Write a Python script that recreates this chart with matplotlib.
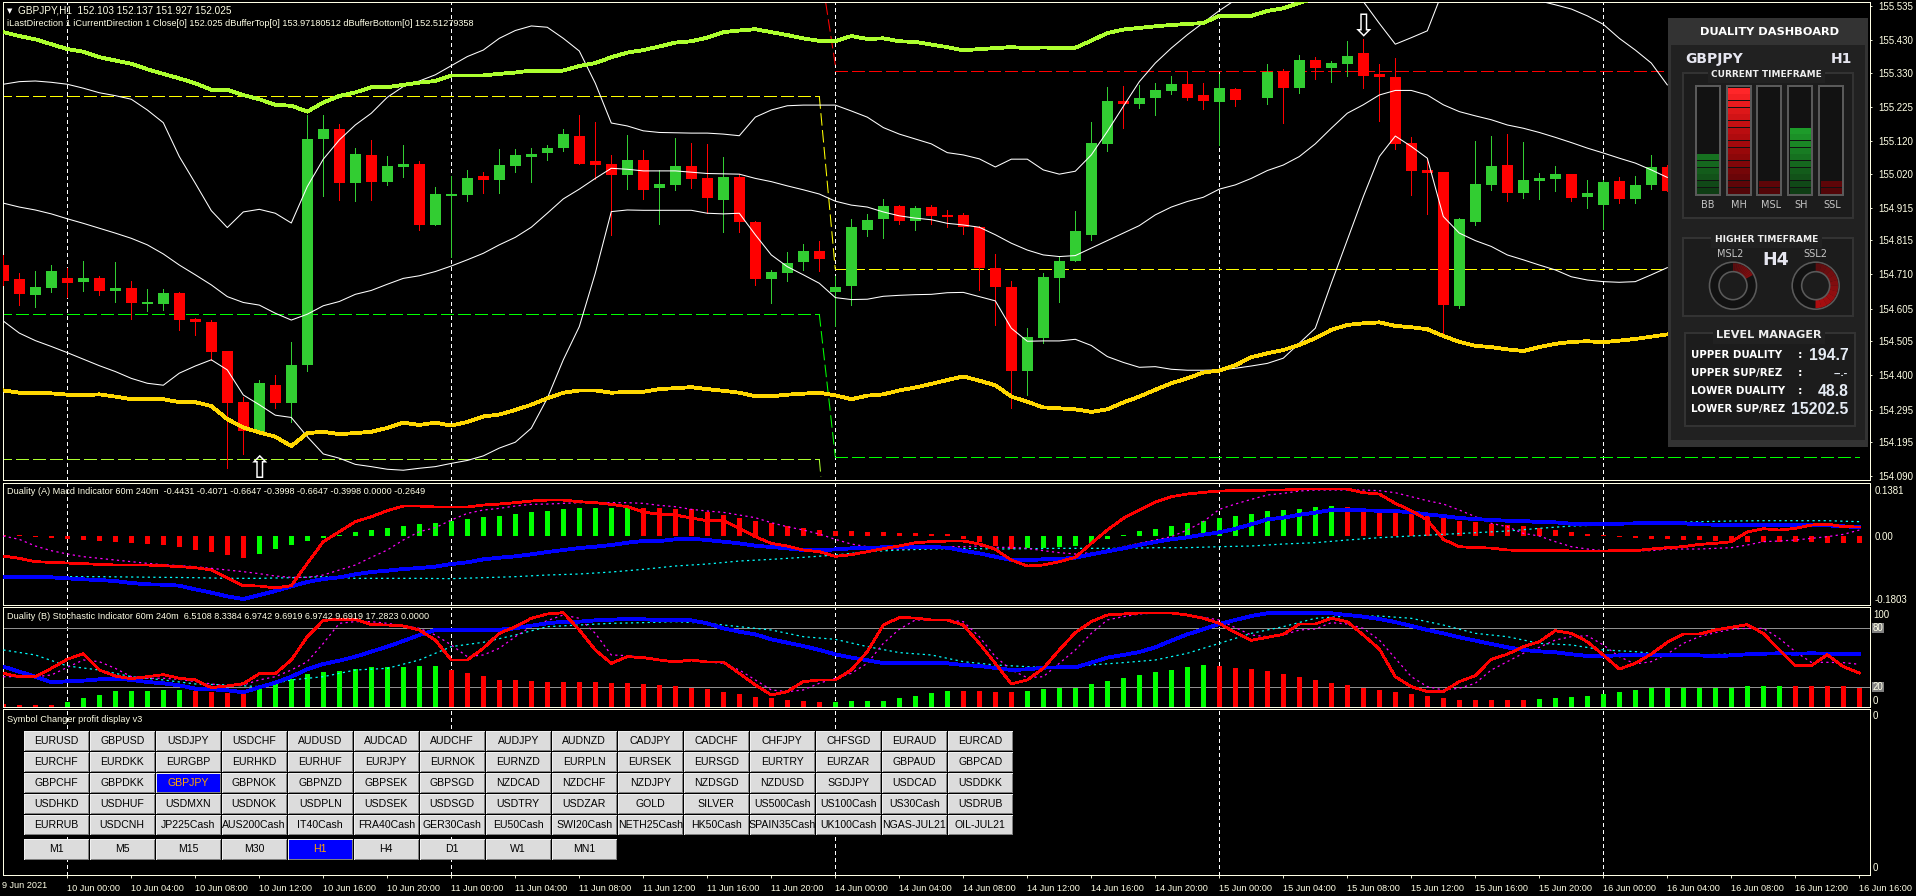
import numpy as np
import matplotlib
matplotlib.use("Agg")
import matplotlib.pyplot as plt
from matplotlib.patches import Rectangle, Wedge, Circle

plt.rcParams['font.family'] = ['Liberation Sans', 'DejaVu Sans']
plt.rcParams['lines.scale_dashes'] = False
plt.rcParams['lines.antialiased'] = False
plt.rcParams['patch.antialiased'] = False

W, H = 1916, 896
PX = 0.72
THIN = 0.9 * PX
FINE = dict(lw=1.05 * PX, antialiased=True)
DOTTED = dict(lw=1.25 * PX, antialiased=True, ls=(0, (1.6, 2.4)))
CREAM = '#FFFFE6'
NA = float('nan')

# ---------------- price candles (bars 0..104 are visible left of the dashboard)
opens = [154.739,154.696,154.647,154.669,154.699,154.687,154.699,154.660,154.669,154.620,154.620,154.653,154.574,154.564,154.475,154.319,154.227,154.371,154.316,154.432,
155.126,155.157,154.991,155.077,154.994,155.040,155.050,154.862,154.951,154.954,155.013,155.000,155.043,155.071,155.083,155.099,155.135,155.059,155.050,155.016,
155.062,154.976,154.985,155.043,155.006,154.939,155.010,154.871,154.696,154.715,154.749,154.782,154.656,154.675,154.847,154.881,154.921,154.874,154.917,154.893,
154.893,154.856,154.730,154.672,154.414,154.515,154.699,154.752,154.832,155.111,155.243,155.234,155.252,155.274,155.295,155.261,155.240,155.280,NA,155.252,
155.332,155.283,155.369,155.344,155.357,155.390,155.326,155.317,155.114,155.031,155.025,154.614,154.871,154.985,155.046,154.960,154.997,155.003,155.019,154.948,
154.924,154.997,154.942,154.985,155.040]
highs = [154.770,154.714,154.721,154.739,154.731,154.752,154.704,154.749,154.690,154.666,154.666,154.656,154.577,154.571,154.475,154.335,154.386,154.402,154.503,155.200,
155.200,155.172,155.099,155.123,155.074,155.108,155.059,154.979,155.011,155.031,155.025,155.096,155.096,155.099,155.108,155.157,155.200,155.178,155.077,155.139,
155.092,155.031,155.129,155.114,155.111,155.071,155.019,154.874,154.724,154.779,154.804,154.813,154.706,154.881,154.896,154.942,154.924,154.921,154.924,154.908,
154.899,154.859,154.773,154.690,154.546,154.715,154.767,154.905,155.178,155.285,155.289,155.292,155.298,155.320,155.335,155.298,155.326,155.283,NA,155.356,
155.340,155.384,155.378,155.366,155.427,155.433,155.357,155.375,155.132,155.068,155.025,154.884,155.120,155.135,155.142,155.117,155.022,155.043,155.019,155.000,
155.000,155.010,155.013,155.077,155.046]
lows = [154.678,154.617,154.610,154.656,154.640,154.660,154.647,154.626,154.574,154.598,154.601,154.540,154.524,154.448,154.116,154.159,154.227,154.300,154.257,154.414,
154.951,154.939,154.936,154.939,154.985,155.010,154.847,154.862,154.765,154.936,154.960,154.960,155.025,154.994,155.062,155.089,155.050,155.003,154.831,154.973,
154.942,154.865,154.970,154.976,154.898,154.841,154.841,154.678,154.623,154.690,154.724,154.721,154.552,154.617,154.828,154.822,154.865,154.847,154.865,154.856,
154.835,154.663,154.555,154.300,154.340,154.500,154.626,154.752,154.816,155.089,155.160,155.221,155.200,155.264,155.246,155.218,155.108,155.228,NA,155.234,
155.175,155.267,155.310,155.301,155.320,155.283,155.182,155.096,154.954,154.896,154.524,154.607,154.862,154.970,154.936,154.945,154.942,154.967,154.936,154.914,
154.850,154.930,154.930,154.973,154.967]
closes = [154.690,154.650,154.672,154.721,154.684,154.699,154.660,154.669,154.623,154.626,154.653,154.571,154.564,154.472,154.316,154.230,154.377,154.316,154.432,155.126,
155.157,154.991,155.080,154.994,155.043,155.050,154.862,154.957,154.957,155.006,155.000,155.046,155.077,155.080,155.099,155.142,155.050,155.046,155.016,155.062,
154.970,154.988,155.043,155.003,154.945,155.010,154.871,154.696,154.718,154.746,154.782,154.758,154.672,154.856,154.878,154.921,154.874,154.914,154.890,154.887,
154.856,154.730,154.672,154.414,154.518,154.703,154.752,154.844,155.114,155.243,155.234,155.252,155.277,155.295,155.252,155.243,155.283,155.246,NA,155.332,
155.283,155.369,155.344,155.360,155.381,155.320,155.317,155.111,155.028,155.022,154.617,154.881,154.988,155.043,154.960,155.000,155.006,155.019,154.945,154.960,
154.994,154.942,154.985,155.040,154.967]

# ---------------- price overlays
trend_top = [155.454,155.442,155.432,155.417,155.402,155.394,155.377,155.367,155.357,155.340,155.326,155.312,155.297,155.277,155.277,155.261,155.248,155.231,155.228,155.210,
155.238,155.258,155.269,155.285,155.285,155.292,155.299,155.304,155.321,155.321,155.321,155.326,155.330,155.336,155.334,155.336,155.350,155.359,155.377,155.391,
155.399,155.410,155.422,155.426,155.437,155.454,155.459,155.463,155.454,155.445,155.435,155.427,155.426,155.442,155.433,155.435,155.426,155.424,155.416,155.408,
155.398,155.402,155.405,155.408,155.405,155.407,155.405,155.406,155.428,155.451,155.462,155.467,155.472,155.476,155.479,155.482,155.504,155.504,155.504,155.519,
155.527,155.544,155.558]
trend_bot = [154.354,154.347,154.345,154.345,154.341,154.339,154.342,154.335,154.327,154.327,154.327,154.318,154.318,154.306,154.266,154.240,154.225,154.212,154.183,154.223,
154.227,154.220,154.223,154.227,154.239,154.255,154.248,154.255,154.246,154.257,154.274,154.280,154.294,154.310,154.330,154.347,154.354,154.354,154.347,154.349,
154.350,154.358,154.361,154.364,154.358,154.353,154.347,154.336,154.336,154.341,154.344,154.347,154.339,154.327,154.338,154.342,154.354,154.363,154.374,154.386,
154.397,154.384,154.370,154.335,154.319,154.302,154.299,154.296,154.288,154.296,154.317,154.335,154.356,154.376,154.391,154.409,154.415,154.431,154.456,154.468,
154.478,154.494,154.514,154.540,154.555,154.560,154.563,154.552,154.548,154.542,154.521,154.503,154.491,154.487,154.480,154.475,154.487,154.497,154.503,154.505,
154.502,154.507,154.512,154.519,154.526]
band_up = [155.294,155.302,155.304,155.300,155.294,155.282,155.268,155.259,155.248,155.215,155.176,155.072,154.990,154.906,154.854,154.902,154.910,154.898,154.868,154.980,
155.064,155.123,155.169,155.205,155.254,155.287,155.304,155.323,155.351,155.379,155.399,155.435,155.459,155.473,155.469,155.435,155.396,155.297,155.175,155.166,
155.151,155.146,155.145,155.144,155.144,155.141,155.136,155.193,155.215,155.228,155.230,155.230,155.230,155.212,155.193,155.161,155.141,155.126,155.111,155.084,
155.077,155.065,155.040,155.064,155.064,155.031,155.018,155.027,155.077,155.149,155.226,155.302,155.359,155.405,155.446,155.483,155.520,155.553,155.620,155.680,
155.720,155.740,155.740,155.720,155.650,155.548,155.481,155.417,155.437,155.458,155.584,155.660,155.720,155.740,155.720,155.640,155.550,155.538,155.525,155.504,
155.478,155.435,155.399,155.359,155.292]
band_mid = [154.929,154.917,154.908,154.896,154.881,154.867,154.852,154.837,154.821,154.801,154.773,154.739,154.709,154.678,154.642,154.624,154.616,154.591,154.570,154.588,
154.614,154.627,154.649,154.661,154.680,154.698,154.706,154.719,154.736,154.755,154.775,154.801,154.824,154.855,154.898,154.942,154.972,155.005,155.036,155.033,
155.028,155.028,155.028,155.024,155.020,155.019,155.018,155.005,154.995,154.982,154.970,154.957,154.935,154.923,154.917,154.902,154.890,154.883,154.878,154.867,
154.862,154.855,154.832,154.806,154.785,154.770,154.765,154.768,154.791,154.814,154.837,154.860,154.893,154.917,154.934,154.947,154.972,154.985,155.005,155.029,
155.046,155.072,155.111,155.159,155.205,155.231,155.261,155.275,155.275,155.261,155.231,155.210,155.197,155.185,155.169,155.159,155.146,155.131,155.115,155.098,
155.083,155.067,155.052,155.031,155.008]
band_low = [154.567,154.530,154.507,154.489,154.470,154.450,154.430,154.412,154.391,154.376,154.370,154.407,154.429,154.448,154.417,154.340,154.310,154.278,154.271,154.212,
154.159,154.146,154.127,154.120,154.112,154.109,154.115,154.120,154.130,154.139,154.153,154.177,154.195,154.238,154.330,154.448,154.550,154.714,154.903,154.908,
154.907,154.907,154.907,154.907,154.898,154.896,154.898,154.832,154.770,154.734,154.709,154.683,154.639,154.633,154.634,154.643,154.646,154.648,154.649,154.654,
154.655,154.642,154.629,154.545,154.505,154.506,154.506,154.511,154.492,154.458,154.440,154.425,154.427,154.419,154.416,154.416,154.417,154.422,154.429,154.437,
154.453,154.499,154.545,154.683,154.816,154.949,155.072,155.135,155.103,155.067,154.888,154.837,154.814,154.796,154.770,154.755,154.739,154.724,154.703,154.693,
154.688,154.686,154.688,154.709,154.731]

# support / resistance levels
lvl_old = {'#FFFF00': 155.257, '#00FF00': 154.588, '#ADFF2F': 154.143}
lvl_new = {'#FF0000': 155.334, '#FFFF00': 154.726, '#00FF00': 154.151}
lvl_prev_red = 155.545
lvl_new_red_start = 155.353

# ---------------- MACD panel (values in 1/1000)
macd_hist = [3,2,-2,-5,-10,-12,-15,-18,-21,-23,-26,-32,-41,-47,-58,-66,-53,-39,-27,-15,-6,2,12,18,24,30,36,39,45,51,57,60,66,72,75,81,84,84,84,87,
84,84,81,81,72,63,54,45,39,30,24,18,15,15,12,12,9,9,6,6,-9,-18,-30,-39,-36,-36,-33,-30,-21,-9,2,15,21,30,39,45,54,60,66,75,
78,81,87,90,87,84,81,78,69,60,54,45,42,36,33,30,24,18,12,6,2,-3,-6,-9,-9,-12,-12,-15,-18,-18,-18,-18,-18,-18,-21,-21,-21]
macd_hist_colour = 'R'*16 + 'G'*24 + 'R'*24 + 'G'*20 + 'R'*33
macd_red = [-60,-67,-77,-79,-81,-83,-85,-87,-87,-87,-89,-92,-95,-102,-125,-149,-150,-156,-149,-82,-17,13,43,58,76,90,90,87,87,87,93,96,100,105,108,108,103,100,95,88,
72,65,63,54,46,46,23,-2,-22,-30,-42,-47,-61,-56,-47,-38,-30,-20,-17,-15,-15,-24,-40,-72,-90,-87,-77,-64,-22,18,53,78,102,118,126,131,135,136,136,138,
138,141,141,141,141,130,126,98,76,48,-10,-32,-35,-36,-42,-43,-43,-43,-45,-45,-45,-44,-44,-39,-35,-32,-25,-22,-17,12,22,18,23,33,36,28,27]
macd_blue = [-122,-122,-123,-124,-127,-130,-132,-135,-141,-145,-146,-149,-160,-170,-181,-189,-177,-165,-151,-138,-129,-124,-115,-108,-104,-99,-96,-92,-84,-79,-70,-65,-61,-55,-48,-42,-36,-32,-27,-20,
-15,-15,-10,-8,-12,-17,-22,-29,-33,-37,-42,-43,-40,-37,-35,-34,-33,-33,-33,-35,-44,-52,-62,-72,-72,-70,-69,-65,-55,-46,-37,-27,-18,-10,-4,4,11,22,35,50,
55,64,70,78,78,77,76,75,71,65,60,54,51,48,46,45,42,41,37,36,35,37,38,38,38,38,35,34,34,34,34,34,34,34,32,29,27]
macd_magenta = [0,-10,-30,-44,-54,-62,-67,-72,-77,-82,-86,-89,-92,-97,-102,-107,-113,-120,-124,-124,-117,-102,-87,-64,-42,-12,13,25,48,68,78,83,90,95,96,98,100,100,100,100,
98,92,88,80,75,71,63,55,40,28,18,6,-10,-24,-32,-39,-40,-37,-34,-32,-32,-30,-34,-34,-37,-44,-50,-54,-50,-42,-32,-22,-12,-2,18,43,80,96,110,123,
128,135,138,138,138,138,136,130,118,106,96,78,58,38,28,8,0,-17,-32,-39,-44,-44,-44,-44,-39,-39,-39,-37,-35,-27,-17,-15,-12,-7,-2,5,18]
macd_cyan_even = [-124,-124,-122,-122,-123,-124,-125,-127,-127,-125,-122,-127,-127,-127,-128,-125,-122,-117,-114,-108,-100,-90,-84,-75,-70,-64,-57,-47,-42,-39,-37,-39,-38,-37,-37,-37,-35,-35,-32,-30,-24,-20,-12,-5,0,5,10,15,23,30,33,38,40,43,45,46,46,46,43]

# ---------------- Stochastic panel
stoch_hist = [3.1,2.0,1.7,1.7,5.4,9.2,12.2,16.3,16.6,16.6,17.3,17.3,16.3,15.3,14.6,13.2,18.3,23.4,28.5,33.6,35.6,36.6,38.6,40.7,40.7,40.7,41.7,41.7,37.6,34.6,31.5,27.5,27.5,26.4,25.4,25.4,25.4,25.4,24.4,24.4,
23.4,22.4,21.4,19.3,18.3,15.3,13.2,10.2,9.2,7.1,6.1,5.1,5.1,6.1,6.1,6.1,9.2,11.2,14.2,16.3,16.3,16.3,15.3,15.3,16.3,18.3,19.3,19.3,23.4,26.4,29.5,32.5,35.6,37.6,40.7,42.7,41.7,39.7,38.6,36.6,
33.6,30.5,27.5,24.4,22.4,19.3,17.3,15.3,13.2,11.2,9.2,7.1,7.1,7.1,7.1,7.1,8.1,9.2,10.2,11.2,13.2,15.3,17.3,19.3,19.3,19.3,19.3,19.3,19.3,21.4,21.4,21.4,21.4,21.4,21.4,21.4,19.3]
stoch_hist_colour = 'R'*4 + 'G'*8 + 'R'*4 + 'G'*12 + 'R'*24 + 'G'*8 + 'R'*4 + 'G'*12 + 'R'*20 + 'G'*16 + 'R'*5
stoch_red = [34.2,30.8,30.8,39.3,48.5,54.2,37.6,31.5,28.8,30.8,32.9,29.2,27.5,19.7,21.4,23.7,33.9,33.9,47.8,71.5,88.1,89.2,89.2,83.7,83.4,82.4,78.3,68.1,47.8,47.8,59.7,74.9,81.7,90.2,94.6,95.9,78.3,58.0,44.4,51.2,
50.2,47.8,45.8,47.8,45.8,45.8,34.2,22.4,12.2,15.6,25.8,27.5,27.5,37.6,56.3,83.4,90.9,90.5,88.5,88.5,83.4,64.7,44.4,23.4,27.5,39.3,58.0,75.6,86.8,93.6,94.6,95.6,95.6,95.6,93.6,90.2,85.1,75.6,67.8,70.9,
73.9,84.4,84.4,90.2,86.8,73.2,59.0,30.8,20.7,15.6,15.6,25.8,31.9,48.5,53.6,61.4,66.4,77.6,74.9,66.4,52.9,38.6,44.4,53.9,65.8,74.2,74.2,78.3,81.0,83.7,74.9,58.0,42.0,42.0,53.2,41.0,34.6]
stoch_blue = [41.0,35.9,30.8,25.1,26.1,26.8,28.1,28.8,27.5,25.4,24.1,22.0,18.6,18.0,17.0,14.9,20.0,24.7,30.8,38.3,43.7,47.1,51.2,56.3,61.4,67.1,73.2,78.3,78.6,78.6,78.6,78.6,80.0,82.7,85.1,86.8,86.8,88.1,88.8,89.5,
89.2,88.5,88.1,88.1,85.1,80.0,76.6,73.9,68.8,65.4,62.0,58.0,53.6,50.2,47.5,44.7,44.4,44.4,44.4,44.4,42.7,41.7,39.7,37.6,38.3,40.0,40.3,40.3,45.1,50.2,52.9,55.9,60.7,67.5,73.9,79.0,84.4,88.5,92.5,95.3,
95.3,95.3,95.3,95.3,93.6,91.9,89.5,86.4,82.4,78.3,74.9,70.9,67.5,64.1,60.7,58.0,56.6,55.6,53.6,51.9,51.9,52.5,52.9,52.9,52.5,52.5,52.5,51.5,52.5,53.6,54.2,54.6,54.2,54.6,54.2,53.6,53.6]
stoch_magenta = [30.8,30.8,30.8,32.5,40.3,47.8,46.1,39.3,30.8,29.2,29.2,28.1,25.8,23.4,21.4,22.4,27.5,30.8,37.6,46.1,64.7,85.1,86.8,86.8,85.1,82.7,80.0,73.2,63.1,51.2,52.9,59.7,71.5,81.7,87.8,93.6,90.2,74.9,52.9,52.2,
50.2,47.8,46.8,46.8,45.8,44.4,37.6,27.5,17.3,15.6,17.3,24.1,29.2,34.2,44.4,64.7,79.0,88.5,88.5,88.5,86.8,71.5,51.2,37.6,29.8,30.8,44.4,58.0,74.9,88.5,91.9,94.6,95.6,95.3,93.6,91.2,88.5,80.7,73.2,71.5,
73.2,78.3,79.3,85.8,84.4,80.0,68.1,49.5,30.8,20.7,17.3,19.0,24.1,37.6,46.1,54.6,60.7,68.1,71.5,72.5,63.1,51.2,43.7,46.1,53.9,64.7,71.5,75.6,79.0,80.0,80.0,69.8,56.3,45.4,45.4,45.1,43.4]
stoch_cyan_even = [58.0,52.9,41.7,37.6,30.8,27.5,23.4,22.4,20.7,27.5,30.8,37.6,39.3,47.8,61.4,65.8,73.2,81.7,83.4,85.1,85.8,86.8,85.1,81.7,78.3,71.5,68.8,61.4,55.3,52.9,46.1,42.7,41.0,39.3,42.7,45.1,47.8,54.6,64.7,74.9,81.7,90.2,92.5,92.5,90.2,83.4,74.9,71.5,64.7,63.1,58.0,56.3,52.9,52.9,53.9,53.9,54.6,53.9,53.9]

# ---------------- axis text
price_ticks = [155.535,155.430,155.330,155.225,155.120,155.020,154.915,154.815,154.710,154.605,154.505,154.400,154.295,154.195,154.090]
midnight_bars = [4, 28, 52, 76, 100]
time_bars = list(range(4, 117, 4))
time_labels = [f'{d} Jun {h:02d}:00' for d in (10, 11, 14, 15) for h in (0, 4, 8, 12, 16, 20)] + ['16 Jun 00:00', '16 Jun 04:00', '16 Jun 08:00', '16 Jun 12:00', '16 Jun 16:00']

# ---------------- symbol buttons
symbols = [
 ['EURUSD','GBPUSD','USDJPY','USDCHF','AUDUSD','AUDCAD','AUDCHF','AUDJPY','AUDNZD','CADJPY','CADCHF','CHFJPY','CHFSGD','EURAUD','EURCAD'],
 ['EURCHF','EURDKK','EURGBP','EURHKD','EURHUF','EURJPY','EURNOK','EURNZD','EURPLN','EURSEK','EURSGD','EURTRY','EURZAR','GBPAUD','GBPCAD'],
 ['GBPCHF','GBPDKK','GBPJPY','GBPNOK','GBPNZD','GBPSEK','GBPSGD','NZDCAD','NZDCHF','NZDJPY','NZDSGD','NZDUSD','SGDJPY','USDCAD','USDDKK'],
 ['USDHKD','USDHUF','USDMXN','USDNOK','USDPLN','USDSEK','USDSGD','USDTRY','USDZAR','GOLD','SILVER','US500Cash','US100Cash','US30Cash','USDRUB'],
 ['EURRUB','USDCNH','JP225Cash','AUS200Cash','IT40Cash','FRA40Cash','GER30Cash','EU50Cash','SWI20Cash','NETH25Cash','HK50Cash','SPAIN35Cash','UK100Cash','NGAS-JUL21','OIL-JUL21'],
]
timeframes = ['M1','M5','M15','M30','H1','H4','D1','W1','MN1']

# ---------------- dashboard gauges
gauge_names = ['BB','MH','MSL','SH','SSL']
gauge_levels = [6,16,2,10,2]
gauge_colour = ['G','R','R','G','R']
dial_names = ['MSL2','SSL2']
dial_fraction = [0.17,0.50]
level_rows = ['UPPER DUALITY','UPPER SUP/REZ','LOWER DUALITY','LOWER SUP/REZ']
level_vals = ['194.7','--.-','48.8','15202.5']

# ================= figure =================
fig = plt.figure(figsize=(W/100, H/100), dpi=100, facecolor='black')

def panel(top, bottom, left=2.5, right=1870):
    ax = fig.add_axes([left/W, 1-bottom/H, (right-left)/W, (bottom-top)/H], facecolor='black')
    for s in ax.spines.values():
        s.set_color(CREAM); s.set_linewidth(THIN)
    ax.set_xlim((left-3.3)/16, (right-3.3)/16)
    ax.tick_params(axis='both', colors=CREAM, labelcolor=CREAM, width=THIN, length=2.5*PX, labelsize=7)
    ax.yaxis.tick_right()
    ax.set_xticks([])
    for b in midnight_bars:
        ax.axvline(b, color='white', lw=THIN, ls=(0, (2.4, 2.2)), zorder=1)
    return ax

# ---- main
ax = panel(2.5, 480)
ax.set_ylim(154.079, 155.545)
ax.set_yticks(price_ticks)
ax.set_yticklabels([f'{p:.3f}' for p in price_ticks])
ax.tick_params(axis='y', pad=4)
for i, (o, h, l, c) in enumerate(zip(opens, highs, lows, closes)):
    if np.isnan(o):
        continue
    col = '#32CD32' if c >= o else '#FF0000'
    ax.vlines(i, l, h, color=col, lw=THIN, zorder=3)
    ax.bar(i, max(abs(c-o), 0.002), bottom=min(o, c), width=11/16, color=col, linewidth=0, zorder=3)
ax.plot(np.arange(len(band_up)), band_up, color='white', zorder=4, **FINE)
ax.plot(np.arange(len(band_mid)), band_mid, color='white', zorder=4, **FINE)
ax.plot(np.arange(len(band_low)), band_low, color='white', zorder=4, **FINE)
ax.plot(np.arange(len(trend_top)), trend_top, color='#ADFF2F', lw=2.8*PX, zorder=5, solid_joinstyle='round')
ax.plot(np.arange(len(trend_bot)), trend_bot, color='#FFD700', lw=2.8*PX, zorder=5, solid_joinstyle='round')

dash = (0, (9, 3.2))
for col, lv in lvl_old.items():
    ax.plot([-1, 51], [lv, lv], color=col, lw=THIN, ls=dash, zorder=2)
for col, lv in lvl_new.items():
    ax.plot([52, 116], [lv, lv], color=col, lw=THIN, ls=dash, zorder=2)
ax.plot([51, 52], [lvl_old['#FFFF00'], lvl_new['#FFFF00']], color='#FFFF00', ls=dash, zorder=2, **FINE)
ax.plot([51, 52], [lvl_old['#00FF00'], lvl_new['#00FF00']], color='#00FF00', ls=dash, zorder=2, **FINE)
ax.plot([51, 51.1], [lvl_old['#ADFF2F'], 154.090], color='#ADFF2F', ls=dash, zorder=2, **FINE)
ax.plot([51.4, 52], [lvl_prev_red, lvl_new_red_start], color='#FF0000', ls=dash, zorder=2, **FINE)

ax.text(16, 154.110, '\u21E7', color='white', fontsize=22, ha='center', va='center', family='DejaVu Sans', zorder=6)
ax.text(85, 155.466, '\u21E9', color='white', fontsize=22, ha='center', va='center', family='DejaVu Sans', zorder=6)

# ---- MACD
am = panel(482.7, 605)
am.set_ylim(-0.207, 0.160)
am.set_yticks([0.138, 0, -0.188])
am.set_yticklabels(['0.1381', '0.00', '-0.1803'])
am.tick_params(axis='y', length=0, pad=3)
x = np.arange(len(macd_hist))
am.bar(x, np.array(macd_hist)/1000, width=5/16, color=['#00FF00' if k == 'G' else '#FF0000' for k in macd_hist_colour], linewidth=0, zorder=2)
am.plot(np.arange(0, 117, 2), np.array(macd_cyan_even)/1000, color='#00FFFF', zorder=3, **DOTTED)
am.plot(np.arange(117), np.array(macd_magenta)/1000, color='#FF00FF', zorder=3, **DOTTED)
am.plot(np.arange(117), np.array(macd_blue)/1000, color='#0000FF', lw=2.8*PX, zorder=4)
am.plot(np.arange(117), np.array(macd_red)/1000, color='#FF0000', lw=1.8*PX, zorder=5)

# ---- Stochastic
ast = panel(607.3, 707.3)
ast.set_ylim(-0.34, 101.4)
ast.set_yticks([])
ast.axhline(80, color='#909090', lw=THIN, zorder=1)
ast.axhline(20, color='#909090', lw=THIN, zorder=1)
x = np.arange(len(stoch_hist))
ast.bar(x, stoch_hist, width=5/16, color=['#00FF00' if k == 'G' else '#FF0000' for k in stoch_hist_colour], linewidth=0, zorder=2)
ast.plot(np.arange(0, 117, 2), stoch_cyan_even, color='#00FFFF', zorder=3, **DOTTED)
ast.plot(np.arange(117), stoch_magenta, color='#FF00FF', zorder=3, **DOTTED)
ast.plot(np.arange(117), stoch_blue, color='#0000FF', lw=2.8*PX, zorder=4)
ast.plot(np.arange(117), stoch_red, color='#FF0000', lw=1.8*PX, zorder=5)

# ---- symbol panel
asym = panel(709, 875)
asym.set_ylim(0, 1)
asym.set_yticks([])
asym.set_xticks(time_bars)
asym.set_xticklabels(time_labels, ha='left', fontsize=6.6)
asym.tick_params(axis='x', length=3*PX, pad=4)

# ---- overlay in pixel space
ov = fig.add_axes([0, 0, 1, 1], facecolor='none', zorder=20)
ov.set_xlim(0, W); ov.set_ylim(H, 0); ov.axis('off')

def T(px, py, s, size=7, color=CREAM, ha='left', va='center', weight='normal', **kw):
    return ov.text(px, py, s, fontsize=size, color=color, ha=ha, va=va, fontweight=weight, **kw)

T(18, 10.7, 'GBPJPY,H1  152.103 152.137 151.927 152.025', size=7.2)
T(10, 10.7, '\u25BC', size=5, color='white', ha='center', family='DejaVu Sans')
T(7, 23.7, 'iLastDirection 1 iCurrentDirection 1 Close[0] 152.025 dBufferTop[0] 153.97180512 dBufferBottom[0] 152.51279358', size=6.6)
T(7, 491.7, 'Duality (A) Macd Indicator 60m 240m  -0.4431 -0.4071 -0.6647 -0.3998 -0.6647 -0.3998 0.0000 -0.2649', size=6.6)
T(7, 616.7, 'Duality (B) Stochastic Indicator 60m 240m  6.5108 8.3384 6.9742 9.6919 6.9742 9.6919 17.2823 0.0000', size=6.6)
T(7, 719, 'Symbol Changer profit display v3', size=6.6)
T(2, 885, '9 Jun 2021', size=6.6)
T(1873, 614.7, '100', size=7)
T(1873, 700.7, '0', size=7)
for yy, lab in ((628.3, '80'), (687.3, '20')):
    ov.add_patch(Rectangle((1872, yy-5), 12, 10, fc='#808080', ec='none', zorder=3))
    T(1873, yy, lab, size=7, zorder=4)
T(1873, 716, '0', size=7)
T(1873, 868, '0', size=7)

def button(px, py, w, h, label, selected=False):
    fc = '#0000FF' if selected else '#DCDCDC'
    r = Rectangle((px, py), w, h, fc=fc, ec='none', zorder=3)
    ov.add_patch(r)
    ov.plot([px, px+w, px+w], [py+h, py+h, py], color='#808080', lw=THIN, zorder=4)
    ov.plot([px, px, px+w], [py+h, py, py], color='#F0F0F0', lw=THIN, zorder=4)
    t = T(px+w/2, py+h/2+.5, label, size=7.6, color='#FFA500' if selected else 'black', ha='center', zorder=5)
    t.set_clip_path(r)

for ri, row in enumerate(symbols):
    for ci, s in enumerate(row):
        button(24+66*ci, 730.7+21*ri, 64.4, 19.2, s, s == 'GBPJPY')
for ci, s in enumerate(timeframes):
    button(24+66*ci, 839.3, 64.4, 19.4, s, s == 'H1')

# ---- dashboard
def zx(z): return 1660 + z/3
def zy(z): return 10 + z/3

ov.add_patch(Rectangle((zx(24), zy(24)), 200, 429, fc='#333333', ec='none', zorder=6))
ov.add_patch(Rectangle((zx(33), zy(105)), 194, 395, fc='#212121', ec='none', zorder=6))
T(zx(328), zy(66), 'DUALITY DASHBOARD', size=8.2, color='white', ha='center', weight='bold', family='DejaVu Sans', zorder=10)
T(zx(76), zy(147), 'GBPJPY', size=10, color='#E6E6F0', weight='bold', family='DejaVu Sans', zorder=10)
T(zx(575), zy(147), 'H1', size=10, color='#E6E6F0', ha='right', weight='bold', family='DejaVu Sans', zorder=10)

def frame(x0, y0, x1, y1, title, tz, size):
    ov.add_patch(Rectangle((zx(x0), zy(y0)), (x1-x0)/3, (y1-y0)/3, fc='#1C1C1C', ec='#333333', lw=2*PX, zorder=7))
    T(zx(tz), zy(y0+6), title, size=size, color='#EEEEEE', ha='center', weight='bold', family='DejaVu Sans', zorder=10,
      bbox=dict(fc='#212121', ec='none', pad=2.5))

frame(70, 188, 580, 625, 'CURRENT TIMEFRAME', 320, 6.5)
frame(70, 684, 580, 917, 'HIGHER TIMEFRAME', 320, 6.6)
frame(76, 970, 586, 1248, 'LEVEL MANAGER', 327, 8.1)

tube_x = [107, 200, 292, 385, 478]
label_x = [143, 238, 333, 422, 518]
for tx, lx, name, lev, kind in zip(tube_x, label_x, gauge_names, gauge_levels, gauge_colour):
    ov.add_patch(Rectangle((zx(tx), zy(227)), 24, 109.5, fc='#121212', ec='#5A5A5A', lw=1.6*PX, zorder=8))
    for k in range(lev):
        f = (k+1)/16
        if kind == 'R':
            col = (0.28+0.72*f, 0.02+0.13*f**3, 0.03+0.13*f**3)
        else:
            col = (0.05+0.10*f, 0.20+0.65*f, 0.07+0.15*f)
        ov.add_patch(Rectangle((zx(tx+5), zy(553-(k+1)*20)), 21.5, 5.9, fc=col, ec='none', zorder=9))
    T(zx(lx), zy(585), name, size=7, color='#C4C4C4', ha='center', family='DejaVu Sans', zorder=10)

T(zx(348), zy(750), 'H4', size=12.5, color='#E6E6F0', ha='center', weight='bold', family='DejaVu Sans', zorder=10)
for cx, tx, name, frac in zip((219, 467), (211, 467), dial_names, dial_fraction):
    T(zx(tx), zy(733), name, size=7, color='#C4C4C4', ha='center', family='DejaVu Sans', zorder=10)
    c = (zx(cx), zy(827))
    ov.add_patch(Circle(c, 23.5, fc='#121212', ec='#5A5A5A', lw=1.6*PX, zorder=8, antialiased=True))
    n = 12
    for k in range(n):
        a0 = -90 + 360*frac*k/n
        a1 = -90 + 360*frac*(k+1)/n
        shade = 0.33 + 0.35*(k+1)/n*min(1, frac*3)
        ov.add_patch(Wedge(c, 22.5, a0, a1+0.5, width=8.5, fc=(shade, 0.05, 0.06), ec='none', zorder=9, antialiased=True))
    ov.add_patch(Circle(c, 14, fc='#1C1C1C', ec='#5A5A5A', lw=1.6*PX, zorder=9.5, antialiased=True))

rows_y = [1035, 1089, 1143, 1197]
colon_x = [420, 420, 420, None]
for yy, lab, val, cx in zip(rows_y, level_rows, level_vals, colon_x):
    T(zx(94), zy(yy), lab, size=7.4, color='white', weight='bold', family='DejaVu Sans', zorder=10)
    if cx:
        T(zx(cx), zy(yy), ':', size=7.8, color='white', weight='bold', ha='center', family='DejaVu Sans', zorder=10)
    T(zx(565), zy(yy), val, size=11.3 if val != '--.-' else 8, color='#E6ECF5', weight='bold', ha='right', zorder=11)

fig.savefig('out.png', dpi=100, facecolor='black')
